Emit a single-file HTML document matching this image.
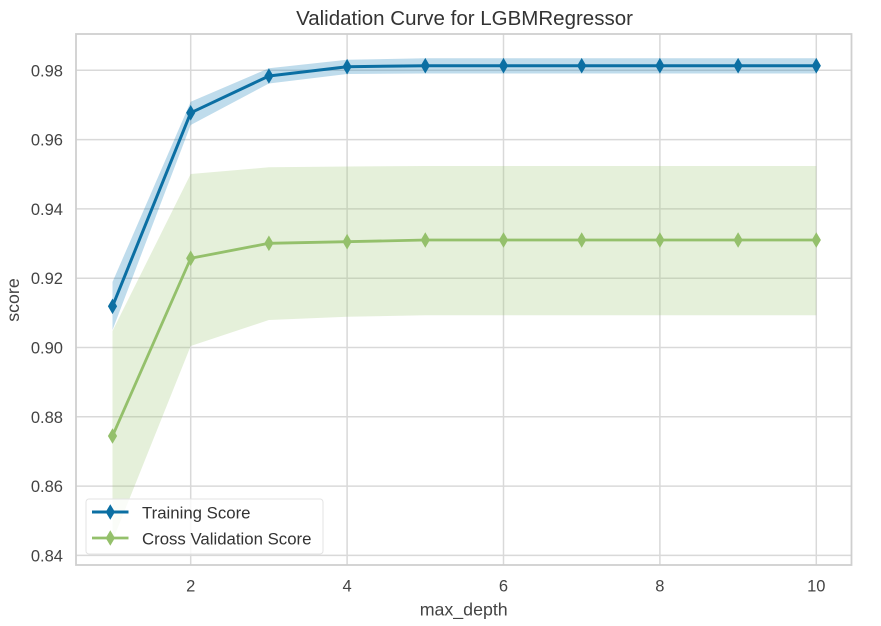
<!DOCTYPE html>
<html>
<head>
<meta charset="utf-8">
<style>
  html,body{margin:0;padding:0;background:#fff;}
  svg{display:block;}
  text{font-family:"Liberation Sans", Arial, sans-serif;}
</style>
</head>
<body>
<svg width="881" height="626" viewBox="0 0 881 626" xmlns="http://www.w3.org/2000/svg">
  <defs>
    <polygon id="dm" points="0,-7.8 4.6,0 0,7.8 -4.6,0"/>
  </defs>
  <rect x="0" y="0" width="881" height="626" fill="#ffffff"/>

  <!-- gridlines -->
  <g stroke="#d9d9d9" stroke-width="1.5">
    <line x1="76" y1="70.3" x2="851.5" y2="70.3"/>
    <line x1="76" y1="139.6" x2="851.5" y2="139.6"/>
    <line x1="76" y1="208.9" x2="851.5" y2="208.9"/>
    <line x1="76" y1="278.2" x2="851.5" y2="278.2"/>
    <line x1="76" y1="347.5" x2="851.5" y2="347.5"/>
    <line x1="76" y1="416.8" x2="851.5" y2="416.8"/>
    <line x1="76" y1="486.1" x2="851.5" y2="486.1"/>
    <line x1="76" y1="555.4" x2="851.5" y2="555.4"/>
    <line x1="190.7" y1="34" x2="190.7" y2="565"/>
    <line x1="347.1" y1="34" x2="347.1" y2="565"/>
    <line x1="503.5" y1="34" x2="503.5" y2="565"/>
    <line x1="659.9" y1="34" x2="659.9" y2="565"/>
    <line x1="816.3" y1="34" x2="816.3" y2="565"/>
  </g>

  <!-- CV band -->
  <polygon fill="#99c46f" fill-opacity="0.26"
    points="112.5,331 190.7,174 268.9,167.3 347.1,166.5 425.3,166 503.5,166 581.7,166 659.9,166 738.1,166 816.3,166
            816.3,315.3 738.1,315.3 659.9,315.3 581.7,315.3 503.5,315.3 425.3,315.3 347.1,316.7 268.9,320 190.7,346 112.5,541"/>

  <!-- Training band -->
  <polygon fill="#0072B2" fill-opacity="0.25"
    points="112.5,282 190.7,101.7 268.9,68.3 347.1,59.8 425.3,58.3 503.5,58.3 581.7,58.3 659.9,58.3 738.1,58.3 816.3,58.3
            816.3,73.5 738.1,73.5 659.9,73.5 581.7,73.5 503.5,73.5 425.3,73.5 347.1,74 268.9,83.5 190.7,125 112.5,330"/>

  <!-- CV line -->
  <polyline fill="none" stroke="#94c06b" stroke-width="2.8" stroke-linejoin="round"
    points="112.5,436 190.7,258.3 268.9,243.3 347.1,241.7 425.3,240 503.5,240 581.7,240 659.9,240 738.1,240 816.3,240"/>
  <g fill="#94c06b">
    <use href="#dm" x="112.5" y="436"/>
    <use href="#dm" x="190.7" y="258.3"/>
    <use href="#dm" x="268.9" y="243.3"/>
    <use href="#dm" x="347.1" y="241.7"/>
    <use href="#dm" x="425.3" y="240"/>
    <use href="#dm" x="503.5" y="240"/>
    <use href="#dm" x="581.7" y="240"/>
    <use href="#dm" x="659.9" y="240"/>
    <use href="#dm" x="738.1" y="240"/>
    <use href="#dm" x="816.3" y="240"/>
  </g>

  <!-- Training line -->
  <polyline fill="none" stroke="#0b6fa3" stroke-width="3" stroke-linejoin="round"
    points="112.5,306.3 190.7,112.8 268.9,76 347.1,66.7 425.3,65.7 503.5,65.7 581.7,65.7 659.9,65.7 738.1,65.7 816.3,65.7"/>
  <g fill="#0b6fa3">
    <use href="#dm" x="112.5" y="306.3"/>
    <use href="#dm" x="190.7" y="112.8"/>
    <use href="#dm" x="268.9" y="76"/>
    <use href="#dm" x="347.1" y="66.7"/>
    <use href="#dm" x="425.3" y="65.7"/>
    <use href="#dm" x="503.5" y="65.7"/>
    <use href="#dm" x="581.7" y="65.7"/>
    <use href="#dm" x="659.9" y="65.7"/>
    <use href="#dm" x="738.1" y="65.7"/>
    <use href="#dm" x="816.3" y="65.7"/>
  </g>

  <!-- spines -->
  <rect x="76" y="34" width="775.5" height="531" fill="none" stroke="#cfcfcf" stroke-width="1.8"/>

  <!-- legend -->
  <rect x="86" y="499" width="237" height="55" rx="3" ry="3" fill="#ffffff" fill-opacity="0.8" stroke="#e3e3e3" stroke-width="1"/>
  <line x1="92" y1="512" x2="128.5" y2="512" stroke="#0b6fa3" stroke-width="3"/>
  <use href="#dm" x="110.3" y="512" fill="#0b6fa3"/>
  <line x1="92" y1="538" x2="128.5" y2="538" stroke="#94c06b" stroke-width="2.8"/>
  <use href="#dm" x="110.3" y="538" fill="#94c06b"/>
  <text x="142" y="518.5" font-size="16.8" fill="#333333">Training Score</text>
  <text x="142" y="544.5" font-size="16.8" fill="#333333">Cross Validation Score</text>

  <!-- y tick labels -->
  <g font-size="16.5" fill="#444444" text-anchor="end">
    <text x="63" y="76.3">0.98</text>
    <text x="63" y="145.6">0.96</text>
    <text x="63" y="214.9">0.94</text>
    <text x="63" y="284.2">0.92</text>
    <text x="63" y="353.5">0.90</text>
    <text x="63" y="422.8">0.88</text>
    <text x="63" y="492.1">0.86</text>
    <text x="63" y="561.4">0.84</text>
  </g>

  <!-- x tick labels -->
  <g font-size="16.5" fill="#444444" text-anchor="middle">
    <text x="190.7" y="591.5">2</text>
    <text x="347.1" y="591.5">4</text>
    <text x="503.5" y="591.5">6</text>
    <text x="659.9" y="591.5">8</text>
    <text x="816.3" y="591.5">10</text>
  </g>

  <!-- axis labels -->
  <text x="463.7" y="615.5" font-size="17.8" fill="#444444" text-anchor="middle">max_depth</text>
  <text x="0" y="0" font-size="17.8" fill="#444444" text-anchor="middle" transform="translate(19,300) rotate(-90)">score</text>

  <!-- title -->
  <text x="464.5" y="25" font-size="20.5" fill="#333333" text-anchor="middle">Validation Curve for LGBMRegressor</text>
</svg>
</body>
</html>
